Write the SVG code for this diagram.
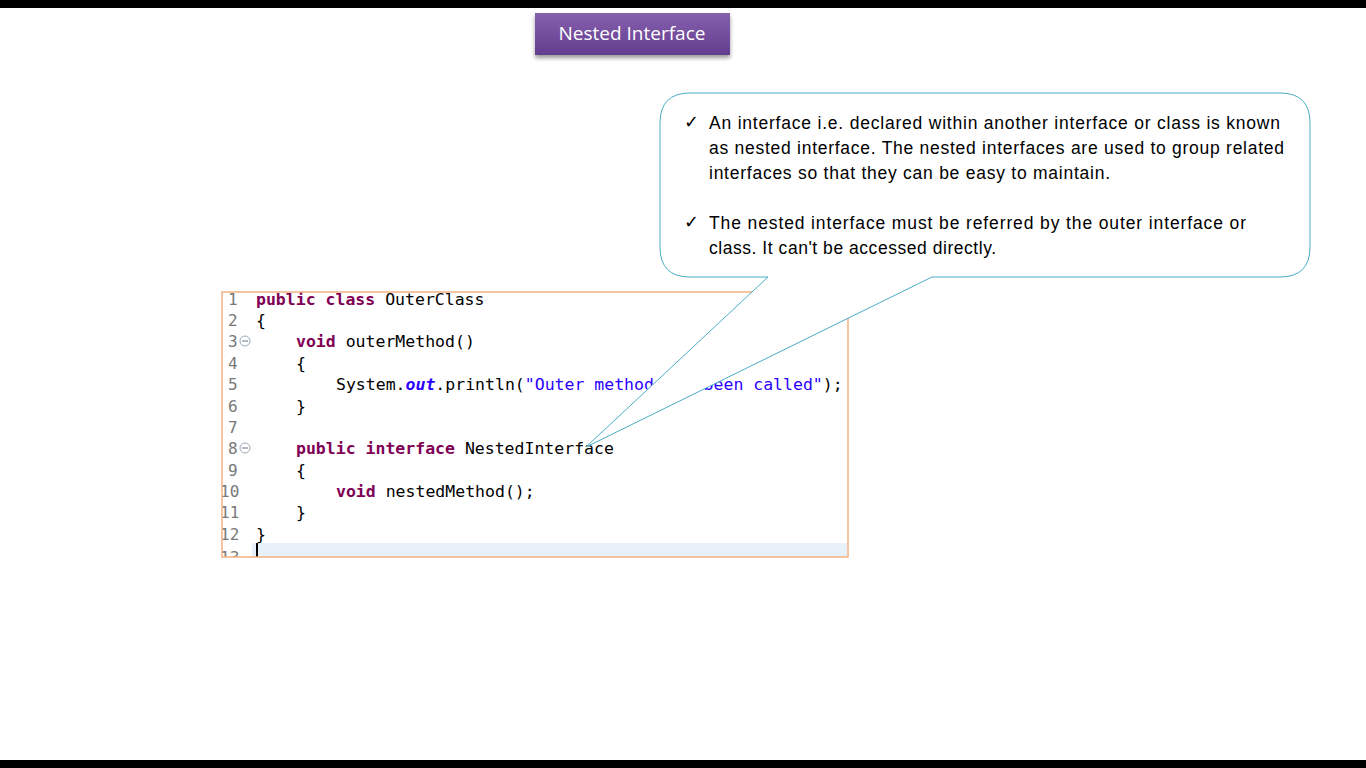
<svg xmlns="http://www.w3.org/2000/svg" width="1366" height="768" viewBox="0 0 1366 768">
<defs>
<linearGradient id="tg" x1="0" y1="0" x2="0" y2="1"><stop offset="0" stop-color="#8560ad"/><stop offset="1" stop-color="#643d8f"/></linearGradient>
<filter id="sh" x="-10%" y="-20%" width="120%" height="160%"><feDropShadow dx="0" dy="3" stdDeviation="2" flood-color="#000" flood-opacity="0.4"/></filter>
<clipPath id="cc"><rect x="222" y="292" width="626" height="265"/></clipPath>
</defs>
<style>
.code{font-family:"DejaVu Sans Mono","Liberation Mono",monospace;font-size:16.5px;fill:#000}
.ln{font-family:"DejaVu Sans Mono",monospace;font-size:16px;fill:#787878}
.kw{fill:#7f0055;font-weight:bold}
.str{fill:#2a00ff}
.txt{font-family:"Liberation Sans","Open Sans",sans-serif;font-size:17.5px;fill:#000}
</style>
<rect width="1366" height="768" fill="#fff"/>
<rect x="0" y="0" width="1366" height="8" fill="#000"/>
<rect x="0" y="760" width="1366" height="8" fill="#000"/>
<g id="title">
<rect x="535" y="13" width="195" height="42" fill="url(#tg)" filter="url(#sh)"/>
<text x="632" y="40" text-anchor="middle" font-family="Open Sans,Liberation Sans,sans-serif" font-size="19" fill="#fff">Nested Interface</text>
</g>
<g id="code">
<rect x="222" y="292" width="626" height="265" fill="#fff"/>
<g clip-path="url(#cc)">
<rect x="252" y="543" width="595" height="14" fill="#e8f0fa"/>
<rect x="256" y="543" width="2" height="14" fill="#000"/>
<g class="ln">
<text x="228" y="305">1</text><text x="228" y="326">2</text><text x="228" y="347">3</text><text x="228" y="369">4</text><text x="228" y="390">5</text><text x="228" y="412">6</text><text x="228" y="433">7</text><text x="228" y="454">8</text><text x="228" y="476">9</text><text x="220" y="497">10</text><text x="220" y="518">11</text><text x="220" y="540">12</text><text x="220" y="563">13</text>
</g>
</g>
<circle cx="245" cy="341" r="5" fill="none" stroke="#9ab"/><line x1="242" y1="341" x2="248" y2="341" stroke="#678"/>
<circle cx="245" cy="448" r="5" fill="none" stroke="#9ab"/><line x1="242" y1="448" x2="248" y2="448" stroke="#678"/>
<g class="code">
<text x="256" y="305"><tspan class="kw">public class</tspan> OuterClass</text>
<text x="256" y="326">{</text>
<text x="296" y="347"><tspan class="kw">void</tspan> outerMethod()</text>
<text x="296" y="369">{</text>
<text x="336" y="390">System.<tspan class="str" font-weight="bold" font-style="italic">out</tspan>.println(<tspan class="str">"Outer method has been called"</tspan>);</text>
<text x="296" y="412">}</text>
<text x="296" y="454"><tspan class="kw">public interface</tspan> NestedInterface</text>
<text x="296" y="476">{</text>
<text x="336" y="497"><tspan class="kw">void</tspan> nestedMethod();</text>
<text x="296" y="518">}</text>
<text x="256" y="540">}</text>
</g>
<rect x="222" y="292" width="626" height="265" fill="none" stroke="#f4b183" stroke-width="1.5"/>
</g>
<g id="callout">
<path d="M690,93 H1280 Q1310,93 1310,123 V247 Q1310,277 1280,277 H932 L586,447 L768,277 H690 Q660,277 660,247 V123 Q660,93 690,93 Z" fill="#fff" stroke="#4bacc6" stroke-width="1"/>
<g class="txt">
<text x="684" y="128">✓</text>
<text x="709" y="129" textLength="571">An interface i.e. declared within another interface or class is known</text>
<text x="709" y="154" textLength="575">as nested interface. The nested interfaces are used to group related</text>
<text x="709" y="179" textLength="401">interfaces so that they can be easy to maintain.</text>
<text x="684" y="228">✓</text>
<text x="709" y="229" textLength="537">The nested interface must be referred by the outer interface or</text>
<text x="709" y="254" textLength="287">class. It can't be accessed directly.</text>
</g>
</g>
</svg>
